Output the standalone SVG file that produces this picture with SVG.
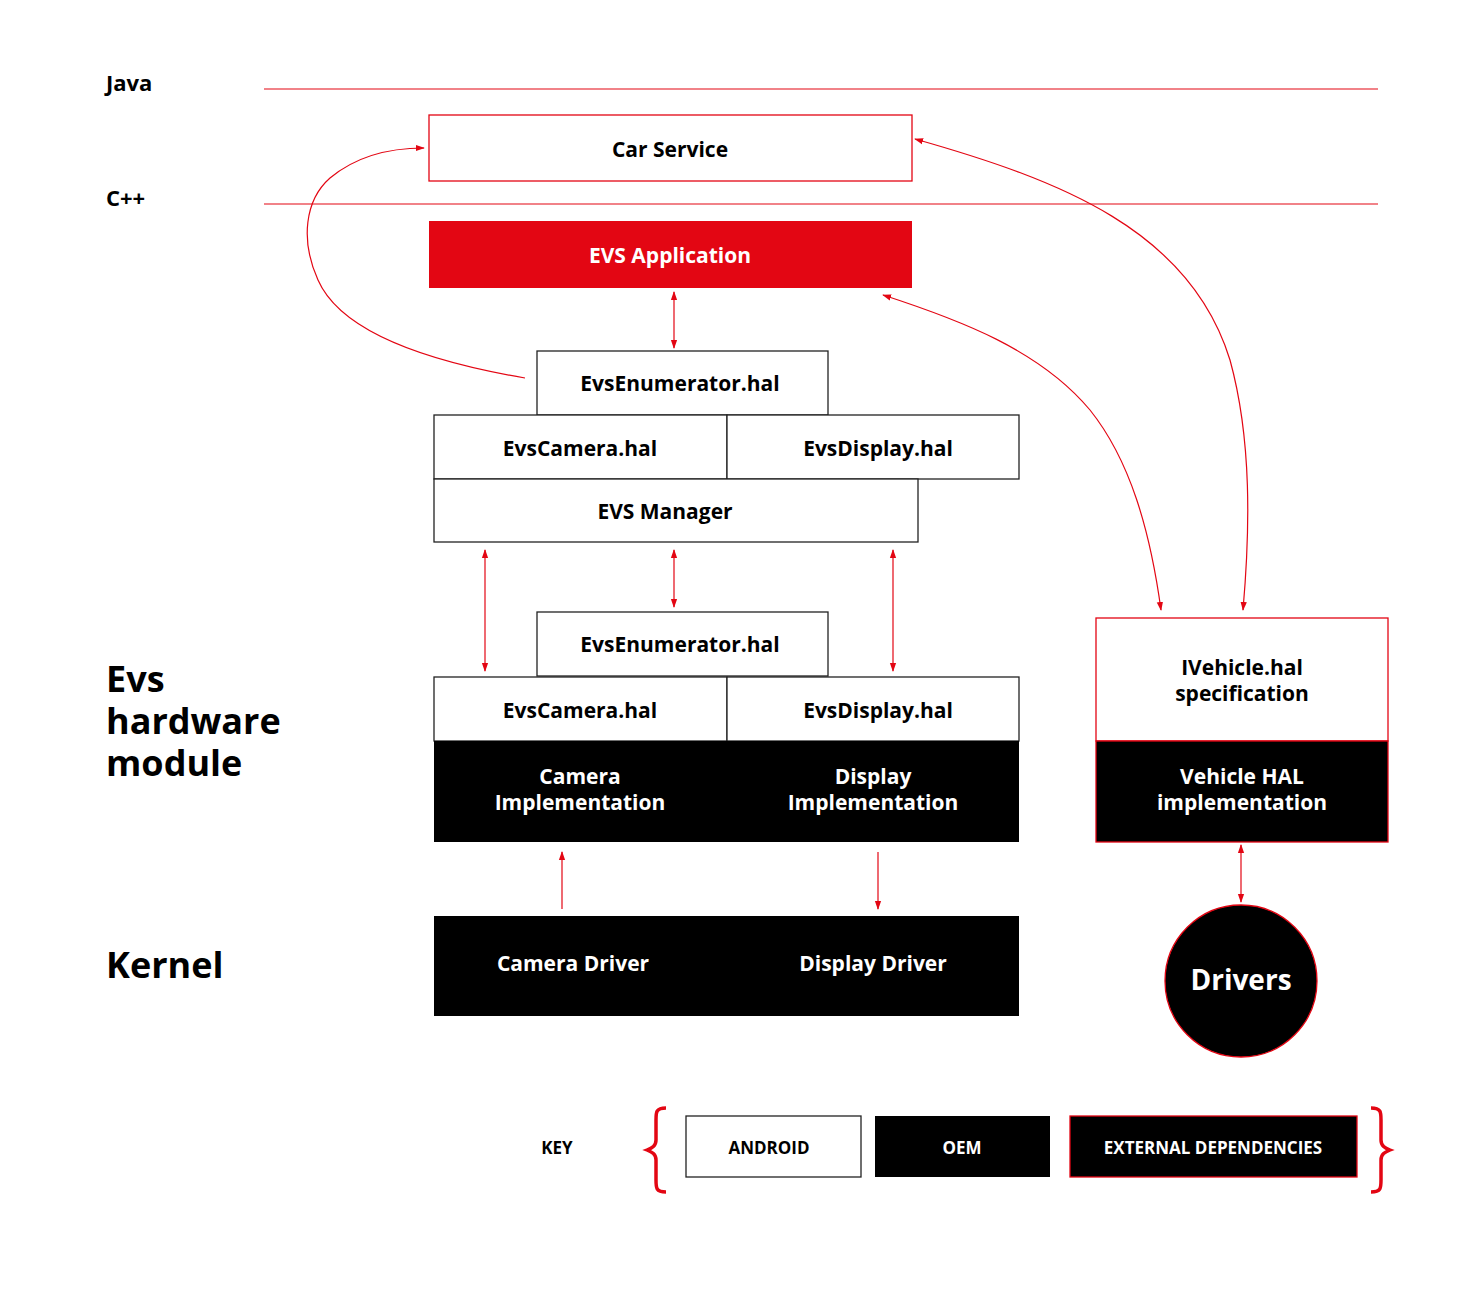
<svg xmlns="http://www.w3.org/2000/svg" width="1472" height="1296" viewBox="0 0 1472 1296">
<style>
text{font-family:"Open Sans","Liberation Sans",sans-serif;font-weight:700;text-anchor:middle;dominant-baseline:central}
.w{fill:#fff;stroke:#222;stroke-width:1.3}
.b{fill:#000}
.t{font-size:21px;fill:#000}
.tw{font-size:21px;fill:#fff}
.c{fill:none;stroke:#e30613;stroke-width:1.2}
.big{font-size:36px;text-anchor:start;fill:#000}
</style>
<defs>
<marker id="a" viewBox="0 0 10 10" refX="9" refY="5" markerWidth="9" markerHeight="9" markerUnits="userSpaceOnUse" orient="auto-start-reverse"><path d="M0,1.5 L10,5 L0,8.5Z" fill="#e30613"/></marker>
</defs>
<rect width="1472" height="1296" fill="#fff"/>
<g id="layers">
<text x="106" y="82" style="font-size:22px;text-anchor:start">Java</text>
<text x="106" y="197" style="font-size:22px;text-anchor:start">C++</text>
<line x1="264" y1="89" x2="1378" y2="89" stroke="#e30613" stroke-width="1.2"/>
<line x1="264" y1="204" x2="1378" y2="204" stroke="#e30613" stroke-width="1.2"/>
<text class="big"><tspan x="106" y="678">Evs</tspan><tspan x="106" y="720">hardware</tspan><tspan x="106" y="762">module</tspan></text>
<text class="big" x="106" y="964">Kernel</text>
</g>
<g id="carservice"><rect x="429" y="115" width="483" height="66" fill="#fff" stroke="#e30613" stroke-width="1.3"/><text class="t" x="670" y="149">Car Service</text></g>
<g id="evsapp"><rect x="429" y="221" width="483" height="67" fill="#e30613"/><text class="tw" x="670" y="255">EVS Application</text></g>
<g id="enum1"><rect class="w" x="537" y="351" width="291" height="64"/><text class="t" x="680" y="383">EvsEnumerator.hal</text></g>
<g id="cam1"><rect class="w" x="434" y="415" width="293" height="64"/><text class="t" x="580" y="448">EvsCamera.hal</text></g>
<g id="disp1"><rect class="w" x="727" y="415" width="292" height="64"/><text class="t" x="878" y="448">EvsDisplay.hal</text></g>
<g id="manager"><rect class="w" x="434" y="479" width="484" height="63"/><text class="t" x="665" y="511">EVS Manager</text></g>
<g id="enum2"><rect class="w" x="537" y="612" width="291" height="64"/><text class="t" x="680" y="644">EvsEnumerator.hal</text></g>
<g id="cam2"><rect class="w" x="434" y="677" width="293" height="64"/><text class="t" x="580" y="710">EvsCamera.hal</text></g>
<g id="disp2"><rect class="w" x="727" y="677" width="292" height="64"/><text class="t" x="878" y="710">EvsDisplay.hal</text></g>
<g id="camimpl"><rect class="b" x="434" y="741" width="293" height="101"/><text class="tw"><tspan x="580" y="776">Camera</tspan><tspan x="580" y="802">Implementation</tspan></text></g>
<g id="dispimpl"><rect class="b" x="727" y="741" width="292" height="101"/><text class="tw"><tspan x="873" y="776">Display</tspan><tspan x="873" y="802">Implementation</tspan></text></g>
<g id="ivehicle"><rect x="1096" y="618" width="292" height="123" fill="#fff" stroke="#e30613" stroke-width="1.3"/><text class="t"><tspan x="1242" y="667">IVehicle.hal</tspan><tspan x="1242" y="693">specification</tspan></text></g>
<g id="vhal"><rect x="1096" y="741" width="292" height="101" fill="#000" stroke="#e30613" stroke-width="1.3"/><text class="tw"><tspan x="1242" y="776">Vehicle HAL</tspan><tspan x="1242" y="802">implementation</tspan></text></g>
<g id="drivers"><rect class="b" x="434" y="916" width="585" height="100"/><text class="tw" x="573" y="963">Camera Driver</text><text class="tw" x="873" y="963">Display Driver</text></g>
<g id="driverscircle"><circle cx="1241" cy="981" r="76" fill="#000" stroke="#e30613" stroke-width="1.3"/><text x="1241" y="979" style="font-size:28px;fill:#fff">Drivers</text></g>
<g id="key">
<text x="557" y="1147" style="font-size:17px">KEY</text>
<path d="M666,1108 C656,1108 656,1112 656,1120 L656,1140 C656,1146 652,1148 647,1150 C652,1152 656,1154 656,1160 L656,1180 C656,1188 656,1192 666,1192" fill="none" stroke="#e30613" stroke-width="3.5"/>
<path d="M1371,1108 C1381,1108 1381,1112 1381,1120 L1381,1140 C1381,1146 1385,1148 1390,1150 C1385,1152 1381,1154 1381,1160 L1381,1180 C1381,1188 1381,1192 1371,1192" fill="none" stroke="#e30613" stroke-width="3.5"/>
<rect class="w" x="686" y="1116" width="175" height="61"/><text x="769" y="1147" style="font-size:17px">ANDROID</text>
<rect class="b" x="875" y="1116" width="175" height="61"/><text x="962" y="1147" style="font-size:17px;fill:#fff">OEM</text>
<rect x="1070" y="1116" width="287" height="61" fill="#000" stroke="#e30613" stroke-width="1.3"/><text x="1213" y="1147" style="font-size:17px;fill:#fff">EXTERNAL DEPENDENCIES</text>
</g>
<g id="connectors">
<path class="c" d="M525,378 C420,360 340,330 318,280 C300,240 305,200 330,178 C360,153 395,148 424,148" marker-end="url(#a)"/>
<path class="c" d="M1243,610 C1250,530 1252,440 1230,360 C1190,230 1060,180 915,139" marker-start="url(#a)" marker-end="url(#a)"/>
<path class="c" d="M1161,610 C1150,530 1130,460 1090,410 C1040,350 960,320 883,295" marker-start="url(#a)" marker-end="url(#a)"/>
<line class="c" x1="674" y1="292" x2="674" y2="348" marker-start="url(#a)" marker-end="url(#a)"/>
<line class="c" x1="674" y1="550" x2="674" y2="607" marker-start="url(#a)" marker-end="url(#a)"/>
<line class="c" x1="485" y1="550" x2="485" y2="671" marker-start="url(#a)" marker-end="url(#a)"/>
<line class="c" x1="893" y1="550" x2="893" y2="671" marker-start="url(#a)" marker-end="url(#a)"/>
<line class="c" x1="562" y1="909" x2="562" y2="852" marker-end="url(#a)"/>
<line class="c" x1="878" y1="852" x2="878" y2="909" marker-end="url(#a)"/>
<line class="c" x1="1241" y1="845" x2="1241" y2="902" marker-start="url(#a)" marker-end="url(#a)"/>
</g>
</svg>
